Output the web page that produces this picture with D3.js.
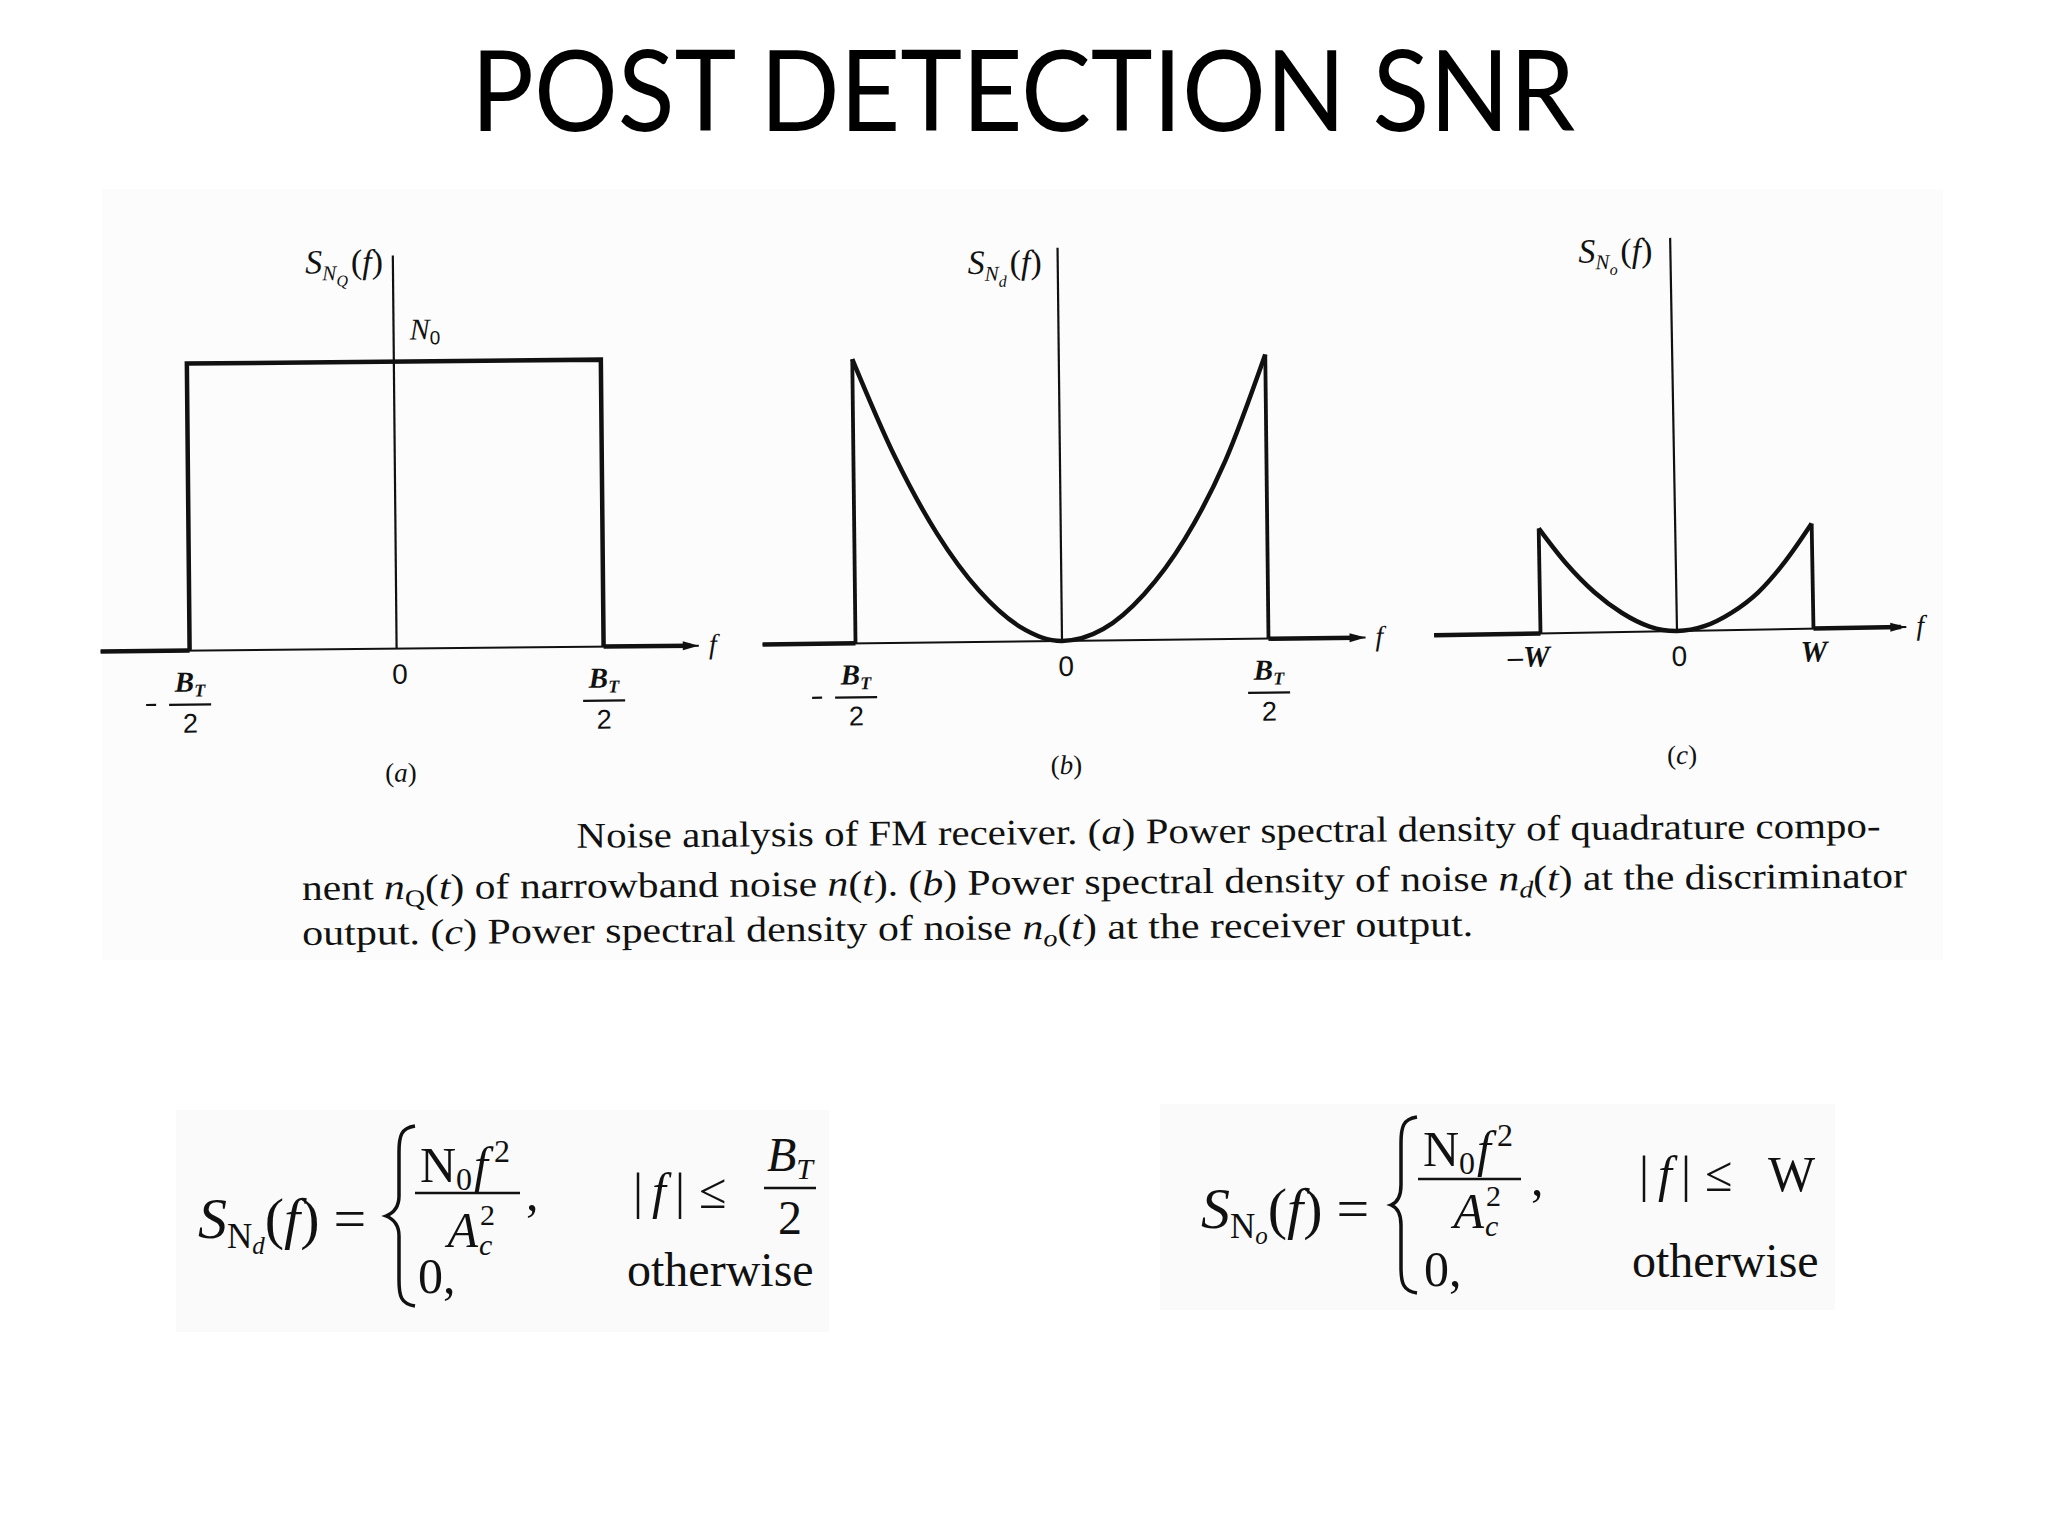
<!DOCTYPE html>
<html>
<head>
<meta charset="utf-8">
<script src="https://cdn.jsdelivr.net/npm/d3@7"></script>
<style>
  html, body { margin: 0; padding: 0; background: #fff; }
  svg { display: block; }
  .serif { font-family: "Liberation Serif", "DejaVu Serif", serif; }
  .sans { font-family: "Liberation Sans", Arial, sans-serif; }
  .title { font-family: Lato, "Open Sans", sans-serif; }
</style>
</head>
<body>
<script>
const WIDTH = 2048, HEIGHT = 1536;
const INK = "#111";

// (a) PSD of the quadrature component: f in units of B_T/2, level in units of N0
const bandA_f = [-1, -1, 1, 1];
const bandA_s = [0, 1, 1, 0];

// (b) PSD at the discriminator output, f in units of B_T/2
const curveB_f = [-1, -0.8, -0.6, -0.4, -0.2, 0, 0.2, 0.4, 0.6, 0.8, 1];
const curveB_s = [0.99, 0.65, 0.38, 0.18, 0.05, 0, 0.04, 0.16, 0.35, 0.62, 0.99];

// (c) PSD at the receiver output, f in units of W
const curveC_f = [-1, -0.8, -0.6, -0.4, -0.2, 0, 0.2, 0.4, 0.6, 0.8, 1];
const curveC_s = [0.366, 0.24, 0.14, 0.066, 0.017, 0, 0.015, 0.06, 0.13, 0.235, 0.366];

// extent of each f axis, in the panel's own units, and top of the S axis
const axisA_f = [-1.43, 1.46];
const axisB_f = [-1.45, 1.47];
const axisC_f = [-1.78, 1.68];
const axisTop_s = 1.37;

// tick labels
const ticksAB = [-1, 0, 1];
const ticksC = [-1, 0, 1];
const ticksC_labels = ["\u2013W", "0", "W"];

const svg = d3.select("body").append("svg")
    .attr("width", WIDTH)
    .attr("height", HEIGHT);

// small helper: text made of styled pieces
function rich(parent, x, y, size, parts, anchor) {
    const t = parent.append("text")
        .attr("x", x).attr("y", y)
        .attr("font-size", size)
        .attr("text-anchor", anchor || "start")
        .attr("class", "serif")
        .attr("fill", INK);
    parts.forEach(p => {
        if (typeof p === "string") p = { t: p };
        const s = t.append("tspan").text(p.t);
        if (p.i) s.attr("font-style", "italic");
        if (p.b) s.attr("font-weight", "bold");
        if (p.s) s.attr("font-size", p.s);
        if (p.dy) s.attr("dy", p.dy);
        if (p.dx) s.attr("dx", p.dx);
        if (p.cls) s.attr("class", p.cls);
    });
    return t;
}

// title
svg.append("text")
    .attr("class", "title")
    .attr("x", 1023).attr("y", 131)
    .attr("text-anchor", "middle")
    .attr("font-size", 112)
    .attr("textLength", 1104)
    .attr("lengthAdjust", "spacingAndGlyphs")
    .attr("fill", "#000")
    .text("POST DETECTION SNR");

// scanned figure backgrounds
svg.append("rect").attr("x", 102).attr("y", 189).attr("width", 1841).attr("height", 771).attr("fill", "#fcfcfc");
svg.append("rect").attr("x", 176).attr("y", 1110).attr("width", 653).attr("height", 222).attr("fill", "#fafafa");
svg.append("rect").attr("x", 1160).attr("y", 1104).attr("width", 675).attr("height", 206).attr("fill", "#fafafa");

const Y_UNIT = 287;

function drawPanel(cfg) {
    const g = svg.append("g")
        .attr("transform", `translate(${cfg.x},${cfg.y}) rotate(${cfg.rot})`);

    const x = d3.scaleLinear().domain([-1, 1]).range([-cfg.unit, cfg.unit]);
    const y = d3.scaleLinear().domain([0, 1]).range([0, -Y_UNIT]);

    const line = d3.line().x(d => x(d[0])).y(d => y(d[1]));

    // thin f axis across the band, heavier outside it
    g.append("path").attr("d", line([[cfg.axis[0], 0], [cfg.axis[1], 0]]))
        .attr("stroke", INK).attr("stroke-width", 2).attr("fill", "none");
    g.append("path").attr("d", line([[cfg.axis[0], 0], [-1, 0]]))
        .attr("stroke", INK).attr("stroke-width", 4.5).attr("fill", "none");
    g.append("path").attr("d", line([[1, 0], [cfg.axis[1] - 0.04, 0]]))
        .attr("stroke", INK).attr("stroke-width", 4.5).attr("fill", "none");
    const xe = x(cfg.axis[1]);
    g.append("path").attr("d", `M${xe - 16},-4.5L${xe},0L${xe - 16},4.5Z`).attr("fill", INK);

    // S axis
    g.append("path").attr("d", line([[0, 0], [0, axisTop_s]]))
        .attr("stroke", INK).attr("stroke-width", 2.2).attr("fill", "none");

    // the spectrum
    const pts = cfg.f.map((f, i) => [f, cfg.s[i]]);
    if (cfg.smooth) {
        const curve = d3.line().x(d => x(d[0])).y(d => y(d[1])).curve(d3.curveMonotoneX);
        g.append("path").attr("d", curve(pts))
            .attr("stroke", INK).attr("stroke-width", 4.5).attr("fill", "none")
            .attr("stroke-linejoin", "round");
        [pts[0], pts[pts.length - 1]].forEach(p => {
            g.append("path").attr("d", line([[p[0], 0], p]))
                .attr("stroke", INK).attr("stroke-width", 3.8).attr("fill", "none");
        });
    } else {
        g.append("path").attr("d", line(pts))
            .attr("stroke", INK).attr("stroke-width", 4.5).attr("fill", "none")
            .attr("stroke-linejoin", "miter");
    }

    // axis letter
    rich(g, xe + 10, 8, 28, [{ t: "f", i: true }]);

    // S(f) label
    rich(g, cfg.lab[0], cfg.lab[1], 34, [
        { t: "S", i: true },
        { t: "N", i: true, s: 21, dy: 7 },
        { t: cfg.sub, i: true, s: 16, dy: 6 },
        { t: "(", dy: -13, dx: 3 },
        { t: "f", i: true },
        ")"
    ], "end");

    // panel caption letter
    rich(g, x(0) + 3, 133, 27, ["(", { t: cfg.name, i: true }, ")"], "middle");

    return { g, x, y };
}

function fracTick(g, xc, neg) {
    rich(g, xc, 41, 29, [{ t: "B", i: true, b: true }, { t: "T", i: true, b: true, s: 18, dy: 5 }], "middle");
    g.append("line").attr("x1", xc - 21).attr("x2", xc + 21).attr("y1", 54).attr("y2", 54)
        .attr("stroke", INK).attr("stroke-width", 2.2);
    g.append("text").attr("class", "sans").attr("x", xc).attr("y", 82)
        .attr("text-anchor", "middle").attr("font-size", 27).attr("fill", INK).text("2");
    if (neg) {
        g.append("line").attr("x1", xc - 44).attr("x2", xc - 34).attr("y1", 54).attr("y2", 54)
            .attr("stroke", INK).attr("stroke-width", 2.2);
    }
}

function zeroTick(g, xz) {
    g.append("text").attr("class", "sans").attr("x", xz).attr("y", 35)
        .attr("text-anchor", "middle").attr("font-size", 28).attr("fill", INK).text("0");
}

// (a)
const pa = drawPanel({ name: "a", x: 396.6, y: 648.6, rot: -0.55, unit: 207,
    f: bandA_f, s: bandA_s, smooth: false, axis: axisA_f, sub: "Q", lab: [-10, -376] });
ticksAB.forEach(t => {
    if (t === 0) zeroTick(pa.g, pa.x(0) + 3);
    else fracTick(pa.g, pa.x(t), t < 0);
});
rich(pa.g, 16, pa.y(1) - 22, 30, [{ t: "N", i: true }, { t: "0", s: 19, dy: 5, cls: "sans" }]);

// (b)
const pb = drawPanel({ name: "b", x: 1062, y: 641, rot: -0.65, unit: 206.5,
    f: curveB_f, s: curveB_s, smooth: true, axis: axisB_f, sub: "d", lab: [-16, -368] });
ticksAB.forEach(t => {
    if (t === 0) zeroTick(pb.g, pb.x(0) + 4);
    else fracTick(pb.g, pb.x(t), t < 0);
});

// (c)
const pc = drawPanel({ name: "c", x: 1677, y: 631, rot: -1.0, unit: 136.5,
    f: curveC_f, s: curveC_s, smooth: true, axis: axisC_f, sub: "o", lab: [-18, -370] });
ticksC.forEach((t, i) => {
    if (t === 0) zeroTick(pc.g, pc.x(0) + 2);
    else rich(pc.g, pc.x(t) + (t < 0 ? -12 : 0), 33, 30,
        [{ t: ticksC_labels[i], i: true, b: true }], "middle");
});

// figure caption
const cap = svg.append("g").attr("transform", "rotate(-0.45, 302, 900)");
rich(cap, 577, 850, 36, [
    "Noise analysis of FM receiver. (", { t: "a", i: true },
    ") Power spectral density of quadrature compo-"
]).attr("textLength", 1304).attr("lengthAdjust", "spacingAndGlyphs");
rich(cap, 302, 900, 36, [
    "nent ", { t: "n", i: true }, { t: "Q", s: 24, dy: 7 }, { t: "(", dy: -7 }, { t: "t", i: true },
    ") of narrowband noise ", { t: "n", i: true }, "(", { t: "t", i: true }, "). (", { t: "b", i: true },
    ") Power spectral density of noise ", { t: "n", i: true }, { t: "d", i: true, s: 24, dy: 7 },
    { t: "(", dy: -7 }, { t: "t", i: true }, ") at the discriminator"
]).attr("textLength", 1605).attr("lengthAdjust", "spacingAndGlyphs");
rich(cap, 302, 945, 36, [
    "output. (", { t: "c", i: true }, ") Power spectral density of noise ", { t: "n", i: true },
    { t: "o", i: true, s: 24, dy: 7 }, { t: "(", dy: -7 }, { t: "t", i: true }, ") at the receiver output."
]).attr("textLength", 1171).attr("lengthAdjust", "spacingAndGlyphs");

// piecewise definitions
function brace(right, tip, top, bottom) {
    const mid = (top + bottom) / 2, c = right - 16;
    const d = `M${right},${top} C${c + 2},${top + 2} ${c},${top + 10} ${c},${top + 26}` +
        ` L${c},${mid - 20} C${c},${mid - 7} ${tip + 5},${mid - 2} ${tip},${mid}` +
        ` C${tip + 5},${mid + 2} ${c},${mid + 7} ${c},${mid + 20}` +
        ` L${c},${bottom - 26} C${c},${bottom - 10} ${c + 2},${bottom - 2} ${right},${bottom}`;
    svg.append("path").attr("d", d).attr("fill", "none").attr("stroke", INK).attr("stroke-width", 3.5);
}

function formula(o) {
    rich(svg, o.lhs[0], o.lhs[1], 58, [
        { t: "S", i: true }, { t: "N", s: 35, dy: 10 }, { t: o.sub, i: true, s: 25, dy: 6 },
        { t: "(", dy: -16 }, { t: "f", i: true }, ")", { t: "=", dx: 14 }
    ]);
    brace(o.brace[0], o.brace[1], o.brace[2], o.brace[3]);
    rich(svg, o.num[0], o.num[1], 50, [
        "N", { t: "0", s: 32, dy: 8 }, { t: "f", i: true, dy: -8, dx: 2 }, { t: "2", s: 32, dy: -20, dx: 6 }
    ]);
    svg.append("line").attr("x1", o.bar[0]).attr("x2", o.bar[1]).attr("y1", o.bar[2]).attr("y2", o.bar[2])
        .attr("stroke", INK).attr("stroke-width", 2.5);
    rich(svg, o.den[0], o.den[1], 50, [{ t: "A", i: true }], "end");
    rich(svg, o.den[0] + 2, o.den[1] - 22, 30, ["2"]);
    rich(svg, o.den[0] + 1, o.den[1] + 8, 30, [{ t: "c", i: true }]);
    rich(svg, o.comma[0], o.comma[1], 50, [","]);
    rich(svg, o.zero[0], o.zero[1], 50, ["0,"]);
    rich(svg, o.cond[0], o.cond[1], 50, ["|", { t: "f", i: true, dx: 9 }, { t: "|", dx: 9 }, { t: "\u2264", dx: 14 }]);
    if (o.condRhs) rich(svg, o.condRhs[0], o.condRhs[1], 50, [o.condRhs[2]]);
    rich(svg, o.other[0], o.other[1], 48, ["otherwise"]);
}

formula({ sub: "d", lhs: [198, 1238], brace: [415, 386, 1126, 1306], num: [420, 1182],
    bar: [415, 520, 1193], den: [478, 1247], comma: [526, 1210], zero: [418, 1293],
    cond: [633, 1208], condRhs: null, other: [627, 1286] });
// B_T / 2 on the right of the first condition
rich(svg, 790, 1171, 48, [{ t: "B", i: true }, { t: "T", i: true, s: 30, dy: 8 }], "middle");
svg.append("line").attr("x1", 764).attr("x2", 816).attr("y1", 1188).attr("y2", 1188)
    .attr("stroke", INK).attr("stroke-width", 2.5);
rich(svg, 790, 1234, 48, ["2"], "middle");

formula({ sub: "o", lhs: [1201, 1228], brace: [1417, 1391, 1117, 1293], num: [1423, 1166],
    bar: [1418, 1521, 1179], den: [1484, 1228], comma: [1531, 1195], zero: [1424, 1286],
    cond: [1639, 1191], condRhs: [1768, 1191, "W"], other: [1632, 1277] });
</script>
</body>
</html>
